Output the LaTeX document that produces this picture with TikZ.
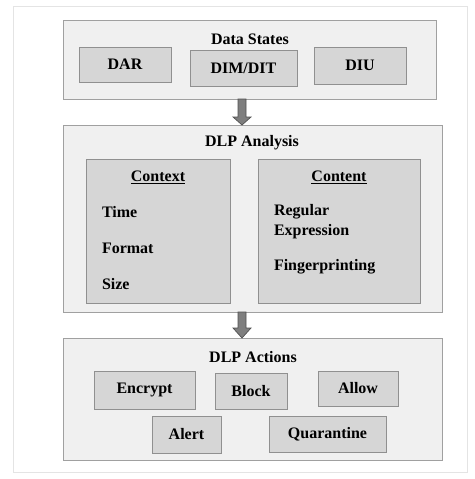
\documentclass[tikz,border=0pt]{standalone}
\usepackage{fontspec}
\setmainfont{Liberation Serif}
\usetikzlibrary{calc}
\definecolor{outerfill}{HTML}{F0F0F0}
\definecolor{outerdraw}{HTML}{A0A0A0}
\definecolor{innerfill}{HTML}{D6D6D6}
\definecolor{innerdraw}{HTML}{909090}
\definecolor{frameline}{HTML}{E4E4E4}
\definecolor{arrowfill}{HTML}{7E7E7E}
\definecolor{arrowdraw}{HTML}{505050}
\begin{document}
\begin{tikzpicture}[x=1pt,y=-1pt,
  every node/.style={font=\fontsize{16}{20}\selectfont\bfseries, inner sep=0pt, outer sep=0pt},
  group/.style={draw=outerdraw, fill=outerfill, line width=1pt},
  item/.style={draw=innerdraw, fill=innerfill, line width=1pt},
  label/.style={anchor=center},
  listtext/.style={anchor=west, align=left},
  blockarrow/.style={fill=arrowfill, draw=arrowdraw, line width=0.7pt}
]
\useasboundingbox (0,0) rectangle (474,479);
\node[draw=frameline, line width=0.8pt, minimum width=454pt, minimum height=466pt] (frame) at (240,239) {};

% Data States
\node[group, minimum width=373pt, minimum height=79pt] (ds) at (249.5,59.5) {};
\node[label] (dst) at (250,39) {Data States};
\node[item, minimum width=92pt, minimum height=35pt] (dar) at (125,64.5) {DAR};
\node[item, minimum width=107pt, minimum height=36pt] (dim) at (243.5,68) {DIM/DIT};
\node[item, minimum width=92pt, minimum height=37pt] (diu) at (360,65.5) {DIU};

% DLP Analysis
\node[group, minimum width=379pt, minimum height=187pt] (ana) at (252.5,218.5) {};
\node[label] (anat) at (252,143) {DLP Analysis};
\node[item, minimum width=144pt, minimum height=144pt] (ctx) at (158,231) {};
\node[item, minimum width=162pt, minimum height=144pt] (cnt) at (339,231) {};
\node[label] (ctxt) at (158,177) {\underline{Context}};
\node[label] (cntt) at (339,177) {\underline{Content}};
\node[listtext] (time) at (102,212) {Time};
\node[listtext] (format) at (102,248) {Format};
\node[listtext] (size) at (102,284) {Size};
\node[listtext] (regex) at (274,222) {Regular\\Expression};
\node[listtext] (finger) at (274,267) {Fingerprinting};

% DLP Actions
\node[group, minimum width=379pt, minimum height=122pt] (act) at (252.5,399) {};
\node[label] (actt) at (253,357) {DLP Actions};
\node[item, minimum width=101pt, minimum height=38pt] (enc) at (144.5,390) {Encrypt};
\node[item, minimum width=72pt, minimum height=36pt] (blk) at (251,391) {Block};
\node[item, minimum width=80pt, minimum height=35pt] (alw) at (358,388.5) {Allow};
\node[item, minimum width=69pt, minimum height=37pt] (alr) at (186.5,434.5) {Alert};
\node[item, minimum width=117pt, minimum height=36pt] (qua) at (327.5,434) {Quarantine};

% Arrows
\coordinate (a1s) at ([xshift=-7.5pt]ds.south);
\coordinate (a1e) at (a1s |- ana.north);
\draw[blockarrow] ($(a1s)+(-4,0)$) -- ($(a1e)+(-4,-8)$) -- ($(a1e)+(-9,-8)$) -- (a1e)
  -- ($(a1e)+(9,-8)$) -- ($(a1e)+(4,-8)$) -- ($(a1s)+(4,0)$) -- cycle;
\coordinate (a2s) at ([xshift=-10.5pt]ana.south);
\coordinate (a2e) at (a2s |- act.north);
\draw[blockarrow] ($(a2s)+(-4,0)$) -- ($(a2e)+(-4,-10)$) -- ($(a2e)+(-9,-10)$) -- (a2e)
  -- ($(a2e)+(9,-10)$) -- ($(a2e)+(4,-10)$) -- ($(a2s)+(4,0)$) -- cycle;
\end{tikzpicture}
\end{document}
